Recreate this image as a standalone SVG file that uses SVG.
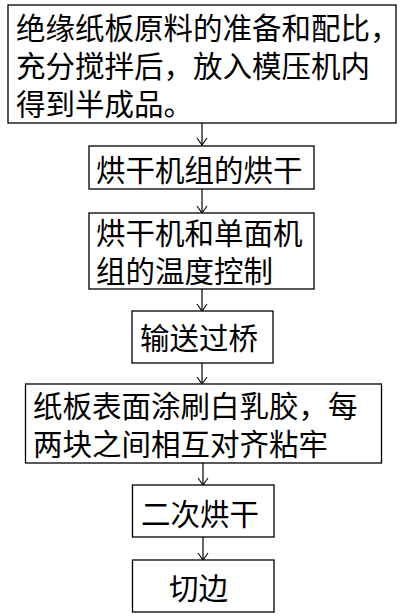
<svg xmlns="http://www.w3.org/2000/svg" width="401" height="616" viewBox="0 0 401 616">
<style>
.box{fill:#fff;stroke:#000;stroke-width:1.3}
.t{font-family:"Noto Sans CJK SC","Noto Sans",sans-serif;font-size:29.5px;fill:#000}
.c{stroke:#000;stroke-width:1.2;fill:none}
</style>
<defs>
<marker id="ah" markerUnits="userSpaceOnUse" markerWidth="12" markerHeight="14" viewBox="-9 -7 12 14" refX="0" refY="0" orient="auto">
<path d="M-7,-5 L0,0 L-7,5" fill="none" stroke="#000" stroke-width="1.1"/>
</marker>
</defs>
<rect width="401" height="616" fill="#fff"/>
<g id="connectors">
<line class="c" x1="202" y1="123" x2="202" y2="145" marker-end="url(#ah)"/>
<line class="c" x1="202" y1="189" x2="202" y2="213" marker-end="url(#ah)"/>
<line class="c" x1="202" y1="289" x2="202" y2="311" marker-end="url(#ah)"/>
<line class="c" x1="202" y1="363" x2="202" y2="384" marker-end="url(#ah)"/>
<line class="c" x1="203" y1="463" x2="203" y2="485" marker-end="url(#ah)"/>
<line class="c" x1="203" y1="537" x2="203" y2="560" marker-end="url(#ah)"/>
</g>
<g id="n1">
<rect class="box" x="8" y="5" width="388" height="118"/>
<text class="t" x="16" y="39">绝缘纸板原料的准备和配比，</text>
<text class="t" x="16" y="77">充分搅拌后，放入模压机内</text>
<text class="t" x="16" y="115">得到半成品。</text>
</g>
<g id="n2">
<rect class="box" x="89" y="146" width="225" height="43"/>
<text class="t" x="96" y="181">烘干机组的烘干</text>
</g>
<g id="n3">
<rect class="box" x="89" y="213" width="225" height="76"/>
<text class="t" x="96" y="244">烘干机和单面机</text>
<text class="t" x="96" y="282">组的温度控制</text>
</g>
<g id="n4">
<rect class="box" x="132" y="311" width="141" height="52"/>
<text class="t" x="140" y="349">输送过桥</text>
</g>
<g id="n5">
<rect class="box" x="25.5" y="384" width="356" height="79"/>
<text class="t" x="33" y="417">纸板表面涂刷白乳胶，每</text>
<text class="t" x="33" y="455">两块之间相互对齐粘牢</text>
</g>
<g id="n6">
<rect class="box" x="132.5" y="485" width="141.5" height="52"/>
<text class="t" x="141" y="525">二次烘干</text>
</g>
<g id="n7">
<rect class="box" x="132.5" y="560" width="141.5" height="52"/>
<text class="t" x="169" y="599">切边</text>
</g>
</svg>
